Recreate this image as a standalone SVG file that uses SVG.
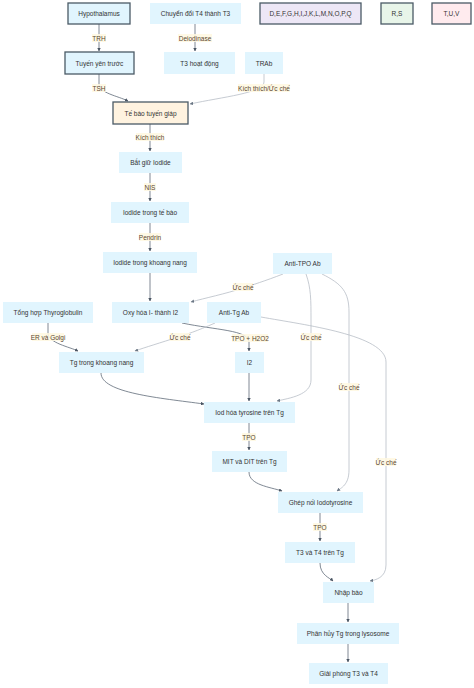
<svg xmlns="http://www.w3.org/2000/svg" width="474" height="688" viewBox="0 0 474 688">
<defs>
<marker id="arr" viewBox="0 0 10 10" refX="9" refY="5" markerWidth="3.5" markerHeight="3.5" markerUnits="userSpaceOnUse" orient="auto"><path d="M0,0 L10,5 L0,10 z" fill="#4a5563"/></marker>
<marker id="arr2" viewBox="0 0 10 10" refX="9" refY="5" markerWidth="3.5" markerHeight="3.5" markerUnits="userSpaceOnUse" orient="auto"><path d="M0,0 L10,5 L0,10 z" fill="#6b7785"/></marker>
</defs>
<style>
.n rect{fill:#e1f5fe;stroke:none}
.n.k rect{stroke:#4a5a66;stroke-width:1.3}
.n.o rect{fill:#fff3e0}
.n.p rect{fill:#ede7f6}
.n.g rect{fill:#e8f5e9}
.n.r rect{fill:#ffebee}
text{font-family:"Liberation Sans",Arial,sans-serif;font-size:6.5px;fill:#333;text-anchor:middle;dominant-baseline:central}
.e path{fill:none;stroke:#5f6b78;stroke-width:0.8;marker-end:url(#arr)}
.e path.i{stroke:#b8bec6;marker-end:url(#arr2)}
.l rect{fill:#fff8e1;fill-opacity:0.85}
.l text{fill:#5a4630}
</style>
<rect width="474" height="688" fill="#fff"/>
<g id="edges" class="e">
<path d="M99,24 L99,51"/>
<path d="M195,24 L195,51"/>
<path d="M99,74 L99,84 C99,93 118,96 128,101"/>
<path class="i" d="M264,74 L264,82 C264,93 222,97 190,104"/>
<path d="M150,124 L150,151"/>
<path d="M150,173 L150,201"/>
<path d="M150,223 L150,251"/>
<path d="M150,273 L150,301"/>
<path class="i" d="M283,274 C265,281 252,285 243,288 C225,294 205,298 191,302"/>
<path d="M182,323 C215,330 249,330 249,342 L249,351"/>
<path class="i" d="M215,323 C197,331 185,335 178,337 C160,343 146,347 135,351"/>
<path d="M48,323 L48,333 C48,343 70,347 78,351"/>
<path d="M101,373 C101,393 160,398 204,404"/>
<path d="M249,373 L249,401"/>
<path class="i" d="M306,274 C311,288 311,300 311,320 L311,380 C311,395 290,398 277,401"/>
<path class="i" d="M322,274 C342,284 349,292 349,312 L349,470 C349,485 341,488 337,491"/>
<path class="i" d="M261,317 C305,325 386,335 386,362 L386,565 C386,578 375,580 370,581"/>
<path d="M249,423 L249,450"/>
<path d="M249,472 C249,485 270,487 282,491"/>
<path d="M320,513 L320,541"/>
<path d="M320,563 C320,575 330,578 333,581"/>
<path d="M348,603 L348,622"/>
<path d="M348,644 L348,662"/>
</g>
<g id="edge-labels" class="l">
<rect x="92" y="34" width="14" height="8"/><text x="99" y="38">TRH</text>
<rect x="178" y="34" width="34" height="8"/><text x="195" y="38">Deiodinase</text>
<rect x="92" y="84" width="14" height="8"/><text x="99" y="88">TSH</text>
<rect x="238" y="84" width="52" height="8"/><text x="264" y="88">Kích thích/Ức chế</text>
<rect x="136" y="133" width="28" height="8"/><text x="150" y="137">Kích thích</text>
<rect x="144" y="183" width="12" height="8"/><text x="150" y="187">NIS</text>
<rect x="139" y="233" width="22" height="8"/><text x="150" y="237">Pendrin</text>
<rect x="233" y="283" width="20" height="8"/><text x="243" y="287">Ức chế</text>
<rect x="232" y="334" width="36" height="8"/><text x="250" y="338">TPO + H2O2</text>
<rect x="170" y="333" width="20" height="8"/><text x="180" y="337">Ức chế</text>
<rect x="32" y="333" width="32" height="8"/><text x="48" y="337">ER và Golgi</text>
<rect x="301" y="333" width="20" height="8"/><text x="311" y="337">Ức chế</text>
<rect x="339" y="383" width="20" height="8"/><text x="349" y="387">Ức chế</text>
<rect x="376" y="458" width="20" height="8"/><text x="386" y="462">Ức chế</text>
<rect x="242" y="433" width="14" height="8"/><text x="249" y="437">TPO</text>
<rect x="313" y="523" width="14" height="8"/><text x="320" y="527">TPO</text>
</g>
<g id="hypothalamus" class="n k"><rect x="68" y="3" width="62" height="21"/><text x="99" y="13.5">Hypothalamus</text></g>
<g id="chuyendoi" class="n"><rect x="150" y="3" width="91" height="21"/><text x="195.5" y="13.5">Chuyển đổi T4 thành T3</text></g>
<g id="legend-p" class="n k p"><rect x="260" y="3" width="101" height="21"/><text x="310.5" y="13.5">D,E,F,G,H,I,J,K,L,M,N,O,P,Q</text></g>
<g id="legend-g" class="n k g"><rect x="381" y="3" width="32" height="21"/><text x="397" y="13.5">R,S</text></g>
<g id="legend-r" class="n k r"><rect x="432" y="3" width="39" height="21"/><text x="451.5" y="13.5">T,U,V</text></g>
<g id="tuyenyen" class="n k"><rect x="65" y="52" width="69" height="22"/><text x="99.5" y="63">Tuyến yên trước</text></g>
<g id="t3hoatdong" class="n"><rect x="164" y="52" width="71" height="22"/><text x="199.5" y="63">T3 hoạt động</text></g>
<g id="trab" class="n"><rect x="245" y="52" width="38" height="22"/><text x="264" y="63">TRAb</text></g>
<g id="tebao" class="n k o"><rect x="113" y="102" width="75" height="22"/><text x="150.5" y="113">Tế bào tuyến giáp</text></g>
<g id="batgiu" class="n"><rect x="119" y="152" width="63" height="21"/><text x="150.5" y="162.5">Bắt giữ Iodide</text></g>
<g id="iodidetb" class="n"><rect x="111" y="202" width="78" height="21"/><text x="150" y="212.5">Iodide trong tế bào</text></g>
<g id="iodidekn" class="n"><rect x="103" y="252" width="94" height="21"/><text x="150" y="262.5">Iodide trong khoang nang</text></g>
<g id="antitpo" class="n"><rect x="273" y="253" width="59" height="21"/><text x="302.5" y="263.5">Anti-TPO Ab</text></g>
<g id="tonghop" class="n"><rect x="3" y="302" width="90" height="21"/><text x="48" y="312.5">Tổng hợp Thyroglobulin</text></g>
<g id="oxyhoa" class="n"><rect x="112" y="302" width="77" height="21"/><text x="150.5" y="312.5">Oxy hóa I- thành I2</text></g>
<g id="antitg" class="n"><rect x="207" y="302" width="54" height="21"/><text x="234" y="312.5">Anti-Tg Ab</text></g>
<g id="tgkhoang" class="n"><rect x="59" y="352" width="85" height="21"/><text x="101.5" y="362.5">Tg trong khoang nang</text></g>
<g id="i2" class="n"><rect x="235" y="352" width="29" height="21"/><text x="249.5" y="362.5">I2</text></g>
<g id="iodhoa" class="n"><rect x="204" y="402" width="91" height="21"/><text x="249.5" y="412.5">Iod hóa tyrosine trên Tg</text></g>
<g id="mitdit" class="n"><rect x="212" y="451" width="75" height="21"/><text x="249.5" y="461.5">MIT và DIT trên Tg</text></g>
<g id="ghepnoi" class="n"><rect x="278" y="492" width="85" height="21"/><text x="320.5" y="502.5">Ghép nối Iodotyrosine</text></g>
<g id="t3t4" class="n"><rect x="285" y="542" width="70" height="21"/><text x="320" y="552.5">T3 và T4 trên Tg</text></g>
<g id="nhapbao" class="n"><rect x="323" y="582" width="51" height="21"/><text x="348.5" y="592.5">Nhập bào</text></g>
<g id="phanhuy" class="n"><rect x="297" y="623" width="102" height="21"/><text x="348" y="633.5">Phân hủy Tg trong lysosome</text></g>
<g id="giaiphong" class="n"><rect x="309" y="663" width="79" height="21"/><text x="348.5" y="673.5">Giải phóng T3 và T4</text></g>
</svg>
